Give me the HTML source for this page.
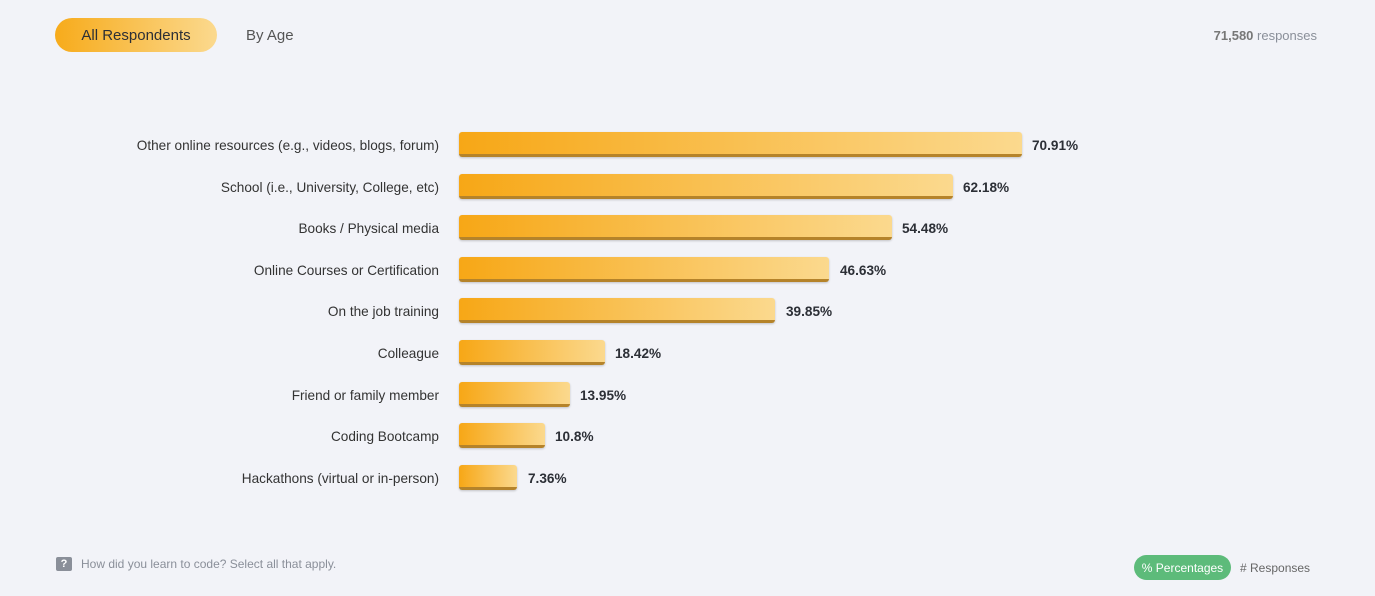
<!DOCTYPE html><html><head><style>
body{margin:0;width:1375px;height:596px;background:#f2f3f8;font-family:"Liberation Sans",sans-serif;position:relative;overflow:hidden}
.pill{position:absolute;left:55px;top:18px;width:162px;height:34px;border-radius:17px;background:linear-gradient(90deg,#f7ab1b,#fbd98e);color:#2c2f36;font-size:15px;line-height:35px;text-align:center}
.tab{position:absolute;left:246px;top:18px;line-height:35px;font-size:15px;color:#555}
.resp{position:absolute;right:58px;top:28px;font-size:13px;color:#8a8f99}
.resp b{color:#777}
.lab{position:absolute;right:936px;font-size:13.6px;color:#333;white-space:nowrap}
.bar{position:absolute;left:459px;height:22px;border-radius:3px;background:linear-gradient(90deg,#f7a716,#fbd98e);border-bottom:3px solid #b5832a;box-shadow:0 1px 2px rgba(0,0,0,.2)}
.val{position:absolute;font-size:13.6px;font-weight:bold;color:#2c2f36}
.foot{position:absolute;left:81px;top:557px;font-size:12px;color:#8a8f99}
.q{position:absolute;left:56px;top:557px;width:16px;height:14px;background:#8a8f99;border-radius:2px;color:#fff;font-size:11px;font-weight:bold;text-align:center;line-height:14px}
.gp{position:absolute;left:1134px;top:555px;width:97px;height:25px;border-radius:13px;background:#5dbb7a;color:#fff;font-size:12px;line-height:26px;text-align:center}
.rs{position:absolute;left:1240px;top:561px;font-size:12px;color:#666}
</style></head><body>
<div class="pill">All Respondents</div><div class="tab">By Age</div>
<div class="resp"><b>71,580</b> responses</div>
<div class="lab" style="top:138px">Other online resources (e.g., videos, blogs, forum)</div>
<div class="bar" style="top:132px;width:563px"></div><div class="val" style="left:1032px;top:138px">70.91%</div>
<div class="lab" style="top:180px">School (i.e., University, College, etc)</div>
<div class="bar" style="top:174px;width:494px"></div><div class="val" style="left:963px;top:180px">62.18%</div>
<div class="lab" style="top:221px">Books / Physical media</div>
<div class="bar" style="top:215px;width:433px"></div><div class="val" style="left:902px;top:221px">54.48%</div>
<div class="lab" style="top:263px">Online Courses or Certification</div>
<div class="bar" style="top:257px;width:370px"></div><div class="val" style="left:840px;top:263px">46.63%</div>
<div class="lab" style="top:304px">On the job training</div>
<div class="bar" style="top:298px;width:316px"></div><div class="val" style="left:786px;top:304px">39.85%</div>
<div class="lab" style="top:346px">Colleague</div>
<div class="bar" style="top:340px;width:146px"></div><div class="val" style="left:615px;top:346px">18.42%</div>
<div class="lab" style="top:388px">Friend or family member</div>
<div class="bar" style="top:382px;width:111px"></div><div class="val" style="left:580px;top:388px">13.95%</div>
<div class="lab" style="top:429px">Coding Bootcamp</div>
<div class="bar" style="top:423px;width:86px"></div><div class="val" style="left:555px;top:429px">10.8%</div>
<div class="lab" style="top:471px">Hackathons (virtual or in-person)</div>
<div class="bar" style="top:465px;width:58px"></div><div class="val" style="left:528px;top:471px">7.36%</div>
<div class="q">?</div><div class="foot">How did you learn to code? Select all that apply.</div>
<div class="gp">% Percentages</div><div class="rs"># Responses</div>
</body></html>
